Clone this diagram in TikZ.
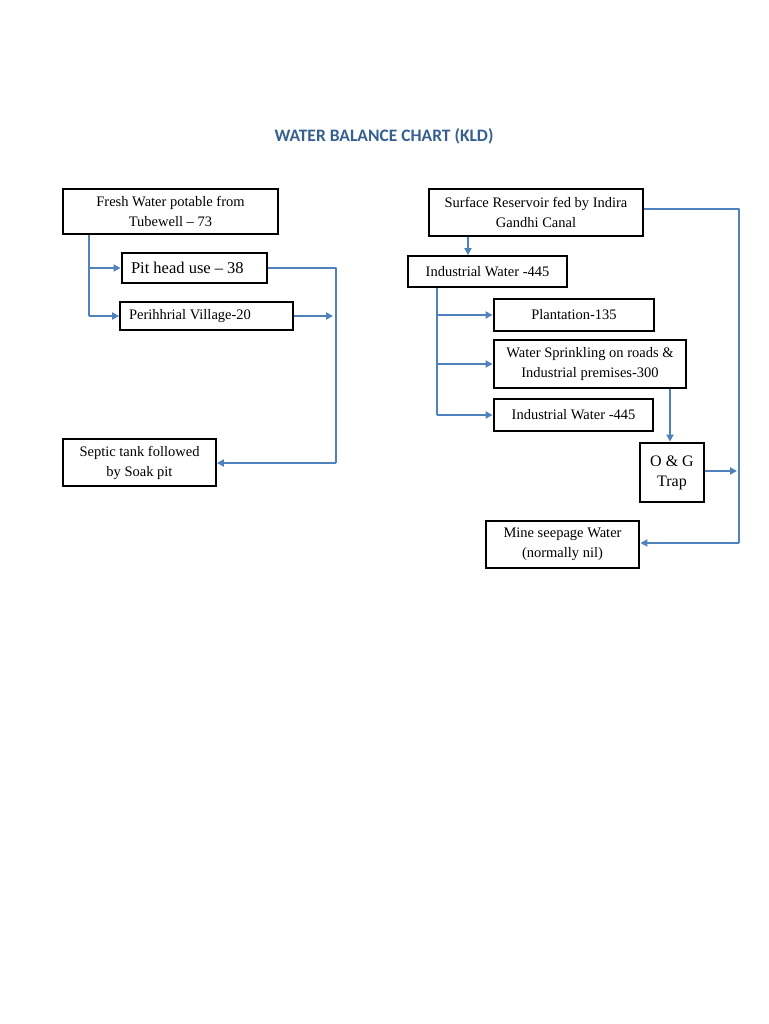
\documentclass[tikz,border=0pt]{standalone}
\usepackage{fontspec}
\setmainfont{Liberation Serif}
\newfontfamily\titlefont{Carlito}
\usetikzlibrary{arrows.meta}
\definecolor{titleblue}{HTML}{365F91}
\definecolor{linkblue}{HTML}{4F81BD}
\tikzset{
  box/.style={draw=black, line width=1.8pt, rectangle, inner sep=0pt, align=center,
    font=\fontsize{14.5}{20}\selectfont},
  boxthick/.style={box, line width=2.8pt},
  link/.style={draw=linkblue, line width=2.5pt, -{Triangle[length=7pt,width=7pt]}},
  plain/.style={draw=linkblue, line width=2.5pt},
}
\begin{document}
\begin{tikzpicture}[x=1pt,y=-1pt]
\useasboundingbox (0,0) rectangle (768,1024);
\node (title) at (384,136) {\titlefont\bfseries\color{titleblue}\fontsize{17.5}{20}\selectfont WATER BALANCE CHART (KLD)};

% left side
\node[box, minimum width=215pt, minimum height=45pt] (fresh) at (170.5,211.5) {Fresh Water potable from\\Tubewell -- 73};
\node[boxthick, minimum width=145pt, minimum height=30pt, font=\fontsize{16.5}{20}\selectfont] (pit) at (194.5,268) {\makebox[127pt][l]{Pit head use -- 38}};
\node[box, minimum width=173pt, minimum height=28pt] (village) at (206.5,316) {\makebox[155pt][l]{Perihhrial Village-20}};
\node[box, minimum width=153pt, minimum height=47pt] (septic) at (139.5,462.5) {Septic tank followed\\by Soak pit};

\coordinate (fdown) at (89,316);
\coordinate (rcol) at (336,268);
\coordinate (rbot) at (336,463);
\draw[plain] (fresh.south -| fdown) -- (fdown);
\draw[link] (89,268) -- (pit.west);
\draw[link] (fdown) -- (village.west);
\draw[plain, line join=round] (pit.east) -- (rcol) -- (rbot);
\draw[link] (rbot) -- (septic.east |- rbot);
\draw[link] (village.east) -- (333,316);

% right side
\node[box, minimum width=214pt, minimum height=47pt] (res) at (536,212.5) {Surface Reservoir fed by Indira\\Gandhi Canal};
\node[box, minimum width=159pt, minimum height=31pt] (ind1) at (487.5,271.5) {Industrial Water -445};
\node[boxthick, minimum width=160pt, minimum height=32pt] (plant) at (574,315) {Plantation-135};
\node[boxthick, minimum width=192pt, minimum height=48pt] (spr) at (590,364) {Water Sprinkling on roads \&\\Industrial premises-300};
\node[boxthick, minimum width=159pt, minimum height=32pt] (ind2) at (573.5,415) {Industrial Water -445};
\node[boxthick, minimum width=64pt, minimum height=59pt, font=\fontsize{16}{20}\selectfont] (og) at (672,472.5) {O \& G\\Trap};
\node[boxthick, minimum width=153pt, minimum height=47pt] (mine) at (562.5,544.5) {Mine seepage Water\\(normally nil)};

\draw[link] (res.south -| 468,0) -- (ind1.north -| 468,0);
\coordinate (idown) at (437,415);
\draw[plain] (ind1.south -| idown) -- (idown);
\draw[link] (437,315) -- (plant.west);
\draw[link] (437,364) -- (spr.west);
\draw[link] (idown) -- (ind2.west);
\draw[link] (spr.south -| 670,0) -- (og.north -| 670,0);
\coordinate (rtop) at (739,209);
\coordinate (rbot2) at (739,543);
\draw[plain, line join=round] (res.east |- rtop) -- (rtop) -- (rbot2);
\draw[link] (rbot2) -- (mine.east |- rbot2);
\draw[link] (og.east |- 0,471) -- (737,471);
\end{tikzpicture}
\end{document}
